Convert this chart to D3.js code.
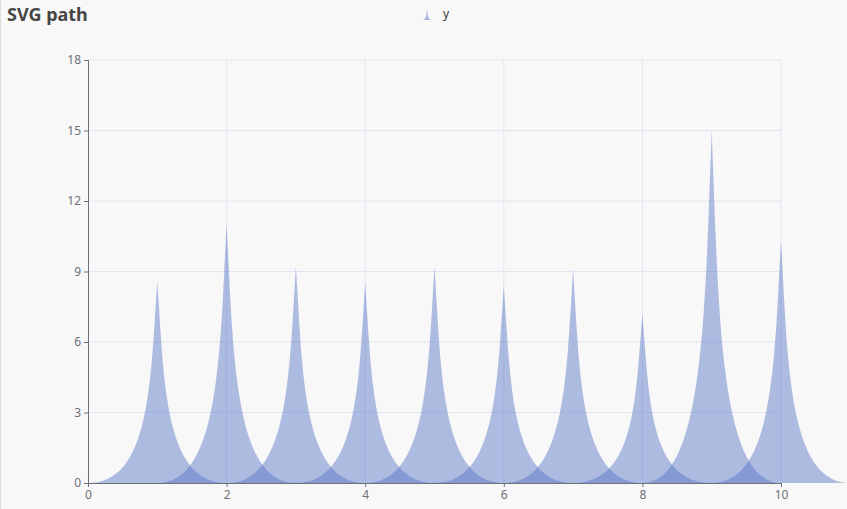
<!DOCTYPE html>
<html><head><meta charset="utf-8">
<script src="https://cdn.jsdelivr.net/npm/d3@7"></script>
<style>body{margin:0;background:#f8f8f8;font-family:"Microsoft YaHei","Noto Sans",sans-serif}</style>
</head><body>
<svg id="chart" width="847" height="509"></svg>
<script>
var xs = [1, 2, 3, 4, 5, 6, 7, 8, 9, 10];
var ys = [8.6, 11, 9.2, 8.5, 9.2, 8.4, 9.1, 7.2, 15, 10.3];
var yTicks = [0, 3, 6, 9, 12, 15, 18];
var xTicks = [0, 2, 4, 6, 8, 10];

var svg = d3.select("#chart");
svg.append("rect").attr("width", 847).attr("height", 509).attr("fill", "#f8f8f8");
svg.append("line").attr("x1", 0.5).attr("x2", 0.5).attr("y1", 0).attr("y2", 509).attr("stroke", "#ddd");

var x = d3.scaleLinear().domain([0, 10]).range([88, 781]);
var y = d3.scaleLinear().domain([0, 18]).range([483, 60]);

// grid
svg.append("g").selectAll("line").data(yTicks.slice(1)).join("line")
  .attr("x1", 88).attr("x2", 781).attr("y1", d => y(d)).attr("y2", d => y(d))
  .attr("stroke", "#e0e6f1");
svg.append("g").selectAll("line").data(xTicks.slice(1)).join("line")
  .attr("y1", 60).attr("y2", 483).attr("x1", d => x(d)).attr("x2", d => x(d))
  .attr("stroke", "#e0e6f1");

// spikes
function spike(cx, v) {
  var l = x(cx - 1), r = x(cx + 1), m = x(cx), b = y(0), t = y(v);
  var w = r - l, h = b - t;
  var p = d3.path();
  p.moveTo(l, b); p.lineTo(r, b);
  p.bezierCurveTo(l + 0.55 * w, b, l + 0.55 * w, t + 0.5 * h, m, t);
  p.bezierCurveTo(l + 0.45 * w, t + 0.5 * h, l + 0.45 * w, b, l, b);
  p.closePath();
  return p.toString();
}
svg.append("g").selectAll("path").data(xs).join("path")
  .attr("d", (d, i) => spike(d, ys[i]))
  .attr("fill", "#5470c6").attr("fill-opacity", 0.45);

// axes
var ya = svg.append("g").attr("transform", "translate(88,0)")
  .call(d3.axisLeft(y).tickValues(yTicks).tickSize(4));
var xa = svg.append("g").attr("transform", "translate(0,483)")
  .call(d3.axisBottom(x).tickValues(xTicks).tickSize(4));
[ya, xa].forEach(a => {
  a.selectAll("path,line").attr("stroke", "#6e7079");
  a.selectAll("text").attr("fill", "#6e7079").style("font-size", "12px")
    .style("font-family", "'Microsoft YaHei','Noto Sans',sans-serif");
});
ya.select(".domain").attr("d", "M0.5,60V483");
xa.select(".domain").attr("d", "M88,0.5H781");

// title
svg.append("text").attr("x", 7).attr("y", 21).text("SVG path")
  .attr("fill", "#464646").style("font-size", "18px").style("font-weight", "bold");

// legend
var lw = 10, lh = 12, lx = 422, ly = 8;
var lp = d3.path();
lp.moveTo(lx, ly + lh); lp.lineTo(lx + lw, ly + lh);
lp.bezierCurveTo(lx + 0.55 * lw, ly + lh, lx + 0.55 * lw, ly + lh / 2, lx + lw / 2, ly);
lp.bezierCurveTo(lx + 0.45 * lw, ly + lh / 2, lx + 0.45 * lw, ly + lh, lx, ly + lh);
svg.append("path").attr("d", lp.toString()).attr("fill", "#5470c6").attr("fill-opacity", 0.5);
svg.append("text").attr("x", 443).attr("y", 18).text("y").attr("fill", "#333").style("font-size", "12px");
</script>
</body></html>
